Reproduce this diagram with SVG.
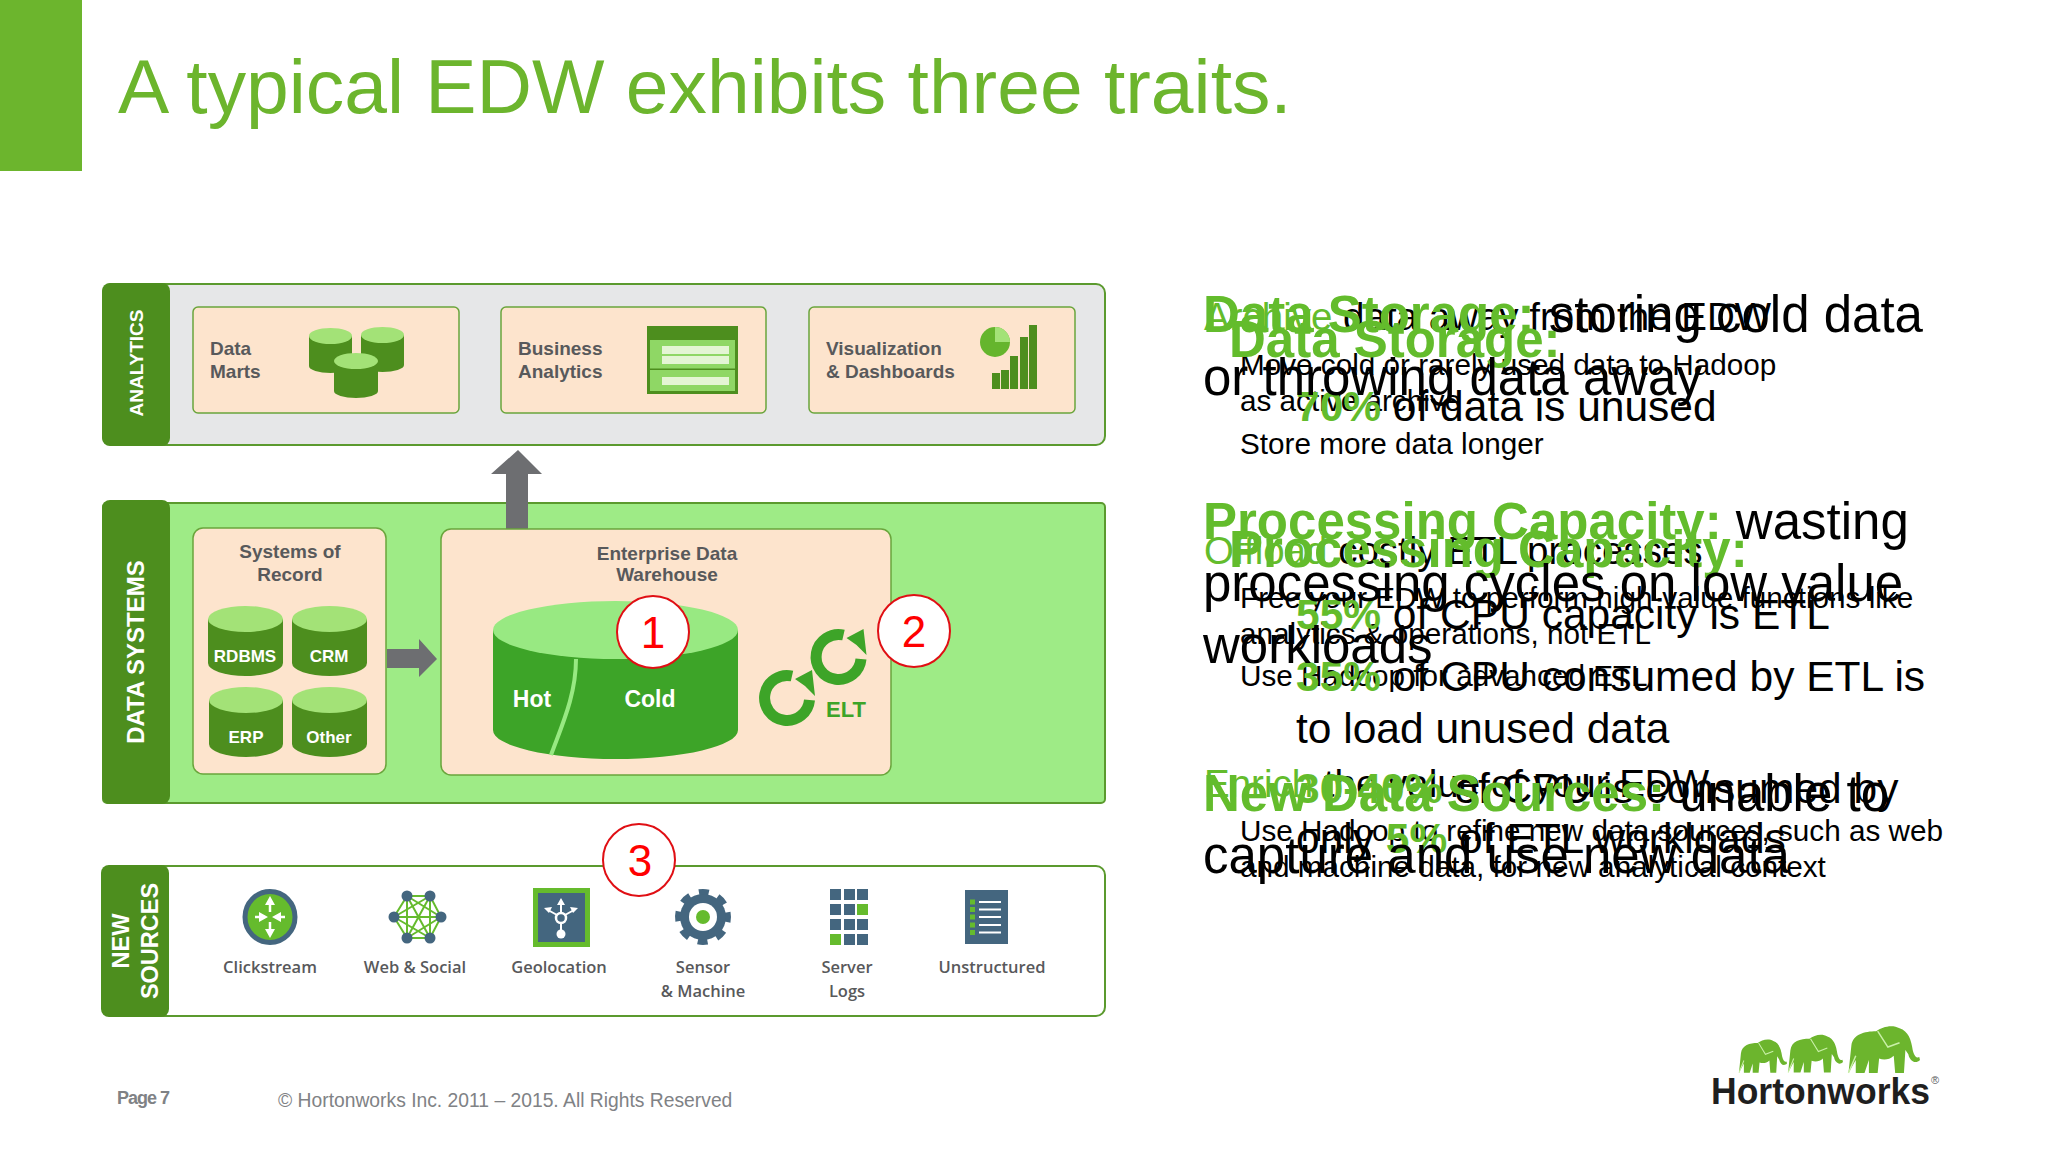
<svg xmlns="http://www.w3.org/2000/svg" xmlns:xlink="http://www.w3.org/1999/xlink" width="2048" height="1152" viewBox="0 0 2048 1152">
<style>
text{font-family:"Liberation Sans",Arial,sans-serif}
.band{fill:#4d8e1e}
.panel{stroke:#5b9a2e;stroke-width:2}
.box{fill:#fde4cd;stroke:#6aa53c;stroke-width:1.5}
.lbl{font-size:19px;font-weight:bold;fill:#58595b}
.mid{text-anchor:middle}
.bandt{font-weight:bold;fill:#fff;text-anchor:middle}
.cw{font-size:17px;font-weight:bold;fill:#fff;text-anchor:middle}
.src{font-family:"Open Sans",sans-serif;font-size:16.500px;font-weight:600;fill:#58595b;text-anchor:middle}
.d{fill:#4d8e1e}.l{fill:#a3e277}
.blue{fill:#44667f}.g{fill:#65bb2d}
.red{fill:#fff;stroke:#e00f14;stroke-width:2}
.num{font-size:44px;fill:#f00;text-anchor:middle}
.h{font-size:51px;fill:#000}
.hb{font-size:51px;font-weight:bold;fill:#63bc2c}
.m{font-size:42.500px;fill:#000}
.m tspan{font-weight:bold;fill:#63bc2c}
.s{font-size:38.500px;fill:#000}
.s tspan{fill:#63bc2c}
.b{font-size:29.700px;fill:#000}
.h tspan{font-weight:bold;fill:#63bc2c}
.wa{fill:none;stroke:#fff;stroke-width:2.500}
</style>
<defs>
<path id="eleph" d="M2 68L6 30C8 14 24 10 40 10C48 4 62 0 72 6C84 10 88 22 90 36C92 44 95 48 99 46L100 50C94 56 86 52 84 42L80 36L78 68H66L64 44C58 50 50 50 44 48L42 68H30V50L24 68H12V50Z"/>
<path id="ear" d="M42 10L56 32L72 26M2 68L12 44" fill="none" stroke="#c9f0a8" stroke-width="2"/>
<g id="cycle">
<path d="M22.500 2A22.500 22.500 0 1 1 5 -22" fill="none" stroke="#3da428" stroke-width="11"/>
<path d="M8 -19L25 -28L28 -2L18 -12Z" fill="#3da428"/>
</g>
</defs>

<rect width="82" height="171" fill="#6cb52d"/>
<text x="118" y="113" font-size="76.800" fill="#6cb52d">A typical EDW exhibits three traits.</text>

<g id="analytics">
<rect class="panel" x="103" y="284" width="1002" height="161" rx="9" fill="#e6e7e8"/>
<rect class="band" x="102" y="283" width="68" height="163" rx="8"/>
<text class="bandt" transform="translate(143 363) rotate(-90)" font-size="19">ANALYTICS</text>
</g>
<g id="data-systems">
<rect class="panel" x="103" y="503" width="1002" height="300" rx="4" fill="#9eeb86"/>
<rect class="band" x="102" y="500" width="68" height="304" rx="8"/>
<text class="bandt" transform="translate(144 652) rotate(-90)" font-size="24">DATA SYSTEMS</text>
</g>
<g id="new-sources">
<rect class="panel" x="103" y="866" width="1002" height="150" rx="9" fill="#fff"/>
<rect class="band" x="101" y="865" width="68" height="152" rx="8"/>
<text class="bandt" transform="translate(129 941) rotate(-90)" font-size="23.500">NEW</text>
<text class="bandt" transform="translate(158 941) rotate(-90)" font-size="23.500">SOURCES</text>
</g>

<g id="connectors" fill="#6d6e71">
<path id="arrow-up" d="M518 450L542 474H528V532H506V474H491Z"/>
<path id="arrow-right" d="M387 649H419V639L437 659L419 677V668H387Z"/>
</g>

<g id="data-marts">
<rect class="box" x="193" y="307" width="266" height="106" rx="5"/>
<text class="lbl" x="210" y="355">Data</text><text class="lbl" x="210" y="378">Marts</text>
<path class="d" d="M309 336H352V366A21.500 7 0 0 1 309 366Z"/><ellipse class="l" cx="330.500" cy="336" rx="21.500" ry="8"/>
<path class="d" d="M361 335H404V365A21.500 7 0 0 1 361 365Z"/><ellipse class="l" cx="382.500" cy="335" rx="21.500" ry="8"/>
<path class="d" d="M334 361H378V391A22 7 0 0 1 334 391Z"/><ellipse class="l" cx="356" cy="361" rx="22" ry="8"/>
</g>
<g id="business-analytics">
<rect class="box" x="501" y="307" width="265" height="106" rx="5"/>
<text class="lbl" x="518" y="355">Business</text><text class="lbl" x="518" y="378">Analytics</text>
<rect class="d" x="647" y="326" width="91" height="68"/>
<rect x="650" y="340" width="85" height="51" fill="#8fd765"/>
<rect class="d" x="650" y="368.500" width="85" height="1.500"/>
<g fill="#e4f5d4"><rect x="662" y="346" width="67" height="8"/><rect x="662" y="356" width="67" height="8"/><rect x="662" y="377" width="67" height="8"/></g>
</g>
<g id="visualization">
<rect class="box" x="809" y="307" width="266" height="106" rx="5"/>
<text class="lbl" x="826" y="355">Visualization</text><text class="lbl" x="826" y="378">&amp; Dashboards</text>
<ellipse cx="995" cy="342" rx="15" ry="15" fill="#65b52d"/>
<path d="M995 342V327A15 15 0 0 1 1010 342Z" fill="#a3e277"/>
<g class="d"><rect x="992" y="373" width="8" height="16"/><rect x="1001" y="370" width="8" height="19"/><rect x="1010" y="356" width="8" height="33"/><rect x="1020" y="337" width="8" height="52"/><rect x="1029" y="325" width="8" height="64"/></g>
</g>

<g id="systems-of-record">
<rect class="box" x="193" y="528" width="193" height="246" rx="10"/>
<text class="lbl mid" x="290" y="558">Systems of</text><text class="lbl mid" x="290" y="581">Record</text>
<g id="rdbms"><path class="d" d="M208 619H283V663A37.500 13 0 0 1 208 663Z"/><ellipse class="l" cx="245.500" cy="619" rx="37.500" ry="13"/><text class="cw" x="245" y="662">RDBMS</text></g>
<g id="crm"><path class="d" d="M292 619H367V663A37.500 13 0 0 1 292 663Z"/><ellipse class="l" cx="329.500" cy="619" rx="37.500" ry="13"/><text class="cw" x="329" y="662">CRM</text></g>
<g id="erp"><path class="d" d="M209 700H283V744A37 13 0 0 1 209 744Z"/><ellipse class="l" cx="246" cy="700" rx="37" ry="13"/><text class="cw" x="246" y="743">ERP</text></g>
<g id="other"><path class="d" d="M292 700H367V744A37.500 13 0 0 1 292 744Z"/><ellipse class="l" cx="329.500" cy="700" rx="37.500" ry="13"/><text class="cw" x="329" y="743">Other</text></g>
</g>
<g id="edw">
<rect class="box" x="441" y="529" width="450" height="246" rx="10"/>
<text class="lbl mid" x="667" y="560">Enterprise Data</text><text class="lbl mid" x="667" y="581">Warehouse</text>
<path d="M493 630H738V730A122.500 29 0 0 1 493 730Z" fill="#3da428"/>
<ellipse cx="615.500" cy="630" rx="122.500" ry="29" fill="#98e982"/>
<path d="M576 659C576 695 562 725 551 755" fill="none" stroke="#98e982" stroke-width="4"/>
<text x="532" y="707" font-size="23" font-weight="bold" fill="#fff" text-anchor="middle">Hot</text>
<text x="650" y="707" font-size="23" font-weight="bold" fill="#fff" text-anchor="middle">Cold</text>
<use xlink:href="#cycle" href="#cycle" x="787" y="698"/>
<use xlink:href="#cycle" href="#cycle" x="838.500" y="657"/>
<text x="826" y="717" font-size="22" font-weight="bold" fill="#3da428">ELT</text>
</g>
<g id="badge-1"><circle class="red" cx="653" cy="632" r="36"/><text class="num" x="653" y="648">1</text></g>
<g id="badge-2"><circle class="red" cx="914" cy="631" r="36"/><text class="num" x="914" y="647">2</text></g>
<g id="badge-3"><circle class="red" cx="639" cy="860" r="36"/><text class="num" x="640" y="876">3</text></g>

<g id="clickstream">
<ellipse cx="270" cy="917" rx="25" ry="25.500" class="g" stroke="#44667f" stroke-width="5"/>
<path d="M270 902V912M270 922V932M255 917H265M275 917H285" class="wa"/>
<path fill="#fff" d="M270 896L275 905H265ZM270 938L275 929H265ZM268 917L259 912V922ZM272 917L281 912V922Z"/>
<text class="src" x="270" y="973">Clickstream</text>
</g>
<g id="web-social">
<path d="M407 896H430L441 917L430 938H407L394 917ZM407 896L430 938M430 896L407 938M394 917H441M407 896V938M430 896V938M394 917L430 896M394 917L430 938M441 917L407 896M441 917L407 938" fill="none" stroke="#65bb2d" stroke-width="2"/>
<g class="blue"><circle cx="407" cy="896" r="5.500"/><circle cx="430" cy="896" r="5.500"/><circle cx="394" cy="917" r="5.500"/><circle cx="441" cy="917" r="5.500"/><circle cx="407" cy="938" r="5.500"/><circle cx="430" cy="938" r="5.500"/></g>
<text class="src" x="415" y="973">Web &amp; Social</text>
</g>
<g id="geolocation">
<rect x="535.500" y="890.500" width="52" height="54" class="blue" stroke="#65bb2d" stroke-width="5"/>
<circle cx="561" cy="918" r="5" fill="none" stroke="#fff" stroke-width="2.500"/>
<circle cx="561" cy="934" r="4.500" fill="#fff"/>
<path d="M561 913V902M561 923V931M557 915L548 910M565 915L574 910" stroke="#fff" stroke-width="2" fill="none"/>
<path fill="#fff" d="M561 898L565 905H557ZM544 908L552 907L549 913ZM578 908L570 907L573 913Z"/>
<text class="src" x="559" y="973">Geolocation</text>
</g>
<g id="sensor">
<circle cx="703" cy="917" r="24.500" fill="none" stroke="#44667f" stroke-width="7" stroke-dasharray="9.620 9.620" transform="rotate(-11 703 917)"/>
<circle cx="703" cy="917" r="23" fill="#44667f"/>
<circle cx="703" cy="917" r="14" fill="#fff"/>
<circle cx="703" cy="917" r="7" class="g"/>
<text class="src" x="703" y="973">Sensor</text><text class="src" x="703" y="997">&amp; Machine</text>
</g>
<g id="server-logs">
<g class="blue"><rect x="830" y="889" width="11" height="11"/><rect x="844" y="889" width="11" height="11"/><rect x="857" y="889" width="11" height="11"/><rect x="830" y="904" width="11" height="11"/><rect x="844" y="904" width="11" height="11"/><rect x="830" y="919" width="11" height="11"/><rect x="844" y="919" width="11" height="11"/><rect x="857" y="919" width="11" height="11"/><rect x="844" y="934" width="11" height="11"/><rect x="857" y="934" width="11" height="11"/></g>
<rect class="g" x="857" y="904" width="11" height="11"/><rect class="g" x="830" y="934" width="11" height="11"/>
<text class="src" x="847" y="973">Server</text><text class="src" x="847" y="997">Logs</text>
</g>
<g id="unstructured">
<rect class="blue" x="965" y="890" width="43" height="54"/>
<g fill="#fff"><rect x="979" y="901" width="22" height="2"/><rect x="979" y="908.500" width="22" height="2"/><rect x="979" y="916" width="22" height="2"/><rect x="979" y="924" width="22" height="2"/><rect x="979" y="931.500" width="22" height="2"/></g>
<g class="g"><rect x="970" y="899.500" width="5" height="5"/><rect x="970" y="907" width="5" height="5"/><rect x="970" y="914.500" width="5" height="5"/><rect x="970" y="922.500" width="5" height="5"/><rect x="970" y="930" width="5" height="5"/></g>
<text class="src" x="992" y="973">Unstructured</text>
</g>

<g id="copy-layer-3">
<text class="s" x="1204" y="330"><tspan>Archive</tspan> data away from the EDW</text>
<text class="b" x="1240" y="375">Move cold or rarely used data to Hadoop</text>
<text class="b" x="1240" y="411">as active archive</text>
<text class="b" x="1240" y="454">Store more data longer</text>
<text class="s" x="1204" y="564"><tspan>Offload</tspan> costly ETL processes</text>
<text class="b" x="1240" y="608">Free your EDW to perform high-value functions like</text>
<text class="b" x="1240" y="644">analytics &amp; operations, not ETL</text>
<text class="b" x="1240" y="686">Use Hadoop for advanced ETL</text>
<text class="s" x="1204" y="797"><tspan>Enrich</tspan> the value of your EDW</text>
<text class="b" x="1240" y="841">Use Hadoop to refine new data sources, such as web</text>
<text class="b" x="1240" y="877">and machine data, for new analytical context</text>
</g>
<g id="copy-layer-2">
<text class="hb" x="1229" y="357">Data Storage:</text>
<text class="m" x="1296" y="421"><tspan>70%</tspan> of data is unused</text>
<text class="hb" x="1229" y="567">Processing Capacity:</text>
<text class="m" x="1296" y="629"><tspan>55%</tspan> of CPU capacity is ETL</text>
<text class="m" x="1296" y="691"><tspan>35%</tspan> of CPU consumed by ETL is</text>
<text class="m" x="1296" y="743">to load unused data</text>
<text class="m" x="1296" y="803"><tspan>30-40%</tspan> of CPU is consumed by</text>
<text class="m" x="1296" y="853">only <tspan>5%</tspan> of ETL workloads</text>
</g>
<g id="copy-layer-1">
<text class="h" x="1203" y="332"><tspan>Data Storage:</tspan> storing cold data</text>
<text class="h" x="1203" y="395">or throwing data away</text>
<text class="h" x="1203" y="539"><tspan>Processing Capacity:</tspan> wasting</text>
<text class="h" x="1203" y="601">processing cycles on low value</text>
<text class="h" x="1203" y="663">workloads</text>
<text class="h" x="1203" y="811"><tspan>New Data Sources:</tspan> unable to</text>
<text class="h" x="1203" y="873">capture and use new data</text>
</g>

<g id="logo">
<g fill="#6cb52d">
<g transform="translate(1738 1038) scale(.49 .51)"><use xlink:href="#eleph" href="#eleph"/><use xlink:href="#ear" href="#ear"/></g>
<g transform="translate(1787 1033) scale(.56 .58)"><use xlink:href="#eleph" href="#eleph"/><use xlink:href="#ear" href="#ear"/></g>
<g transform="translate(1847 1024) scale(.73 .72)"><use xlink:href="#eleph" href="#eleph"/><use xlink:href="#ear" href="#ear"/></g>
</g>
<text x="1711" y="1104" font-size="36" font-weight="bold" fill="#1f1f1f" textLength="219" lengthAdjust="spacingAndGlyphs">Hortonworks</text>
<text x="1931" y="1084" font-size="11" fill="#58595b">®</text>
</g>
<text x="117" y="1104" font-size="18" font-weight="bold" fill="#808285" letter-spacing="-1">Page 7</text>
<text x="278" y="1107" font-size="19.300" fill="#808285">© Hortonworks Inc. 2011 – 2015. All Rights Reserved</text>
</svg>
